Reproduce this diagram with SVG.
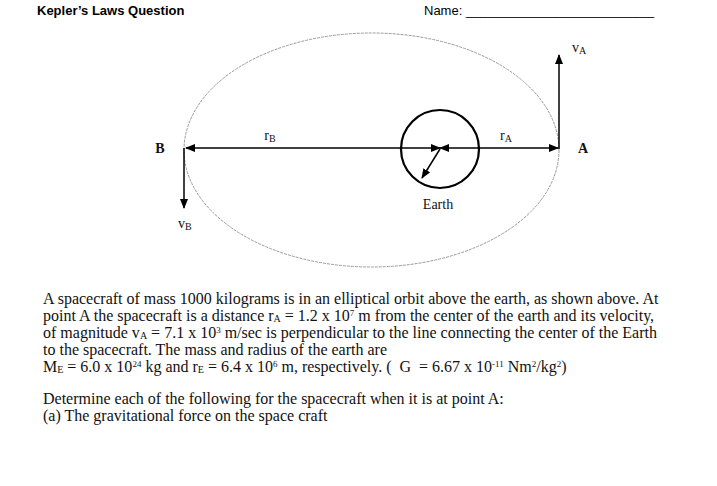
<svg xmlns="http://www.w3.org/2000/svg" width="717" height="486" viewBox="0 0 717 486">
<defs>
<marker id="ah" markerWidth="10" markerHeight="8" refX="9" refY="4" orient="auto" markerUnits="userSpaceOnUse"><path d="M0,0 L10,4 L0,8 Z" fill="#000"/></marker>
</defs>
<style>
.h{font-family:"Liberation Sans",Arial,sans-serif;font-size:13px}
.t{font-family:"Liberation Serif","Times New Roman",serif;font-size:16px;fill:#111}
.l{font-family:"Liberation Serif","Times New Roman",serif;font-size:14px;fill:#111}
.a{stroke:#000;stroke-width:1.5;fill:none}
</style>
<rect width="717" height="486" fill="#fff"/>
<text class="h" x="37" y="15" font-weight="bold">Kepler’s Laws Question</text>
<text class="h" x="424" y="15">Name: __________________________</text>
<g id="orbit"><ellipse cx="371.5" cy="150" rx="187.5" ry="117" fill="none" stroke="#999" stroke-width="1" stroke-dasharray="3,1"/></g>
<g id="earth"><circle cx="440" cy="149" r="39" fill="none" stroke="#000" stroke-width="2.2"/><text class="l" x="438" y="209" text-anchor="middle">Earth</text></g>
<g id="pointA"><text class="l" x="583" y="153" font-weight="bold" text-anchor="middle">A</text></g>
<g id="pointB"><text class="l" x="160" y="153" font-weight="bold" text-anchor="middle">B</text></g>
<g id="connectors">
<line class="a" x1="360" y1="148" x2="186" y2="148" marker-end="url(#ah)"/>
<line class="a" x1="360" y1="148" x2="440" y2="148" marker-end="url(#ah)"/>
<line class="a" x1="500" y1="148" x2="440" y2="148" marker-end="url(#ah)"/>
<line class="a" x1="500" y1="148" x2="558" y2="148" marker-end="url(#ah)"/>
<line class="a" x1="440" y1="149" x2="422" y2="178" marker-end="url(#ah)"/>
<line class="a" x1="559" y1="149" x2="559" y2="55" marker-end="url(#ah)"/>
<line class="a" x1="184" y1="148" x2="184" y2="208" marker-end="url(#ah)"/>
</g>
<g id="labels">
<text class="l" x="270" y="140" text-anchor="middle">r<tspan font-size="10" dy="2">B</tspan></text>
<text class="l" x="506" y="140" text-anchor="middle">r<tspan font-size="10" dy="2">A</tspan></text>
<text class="l" x="572" y="52">v<tspan font-size="10" dy="2">A</tspan></text>
<text class="l" x="178" y="228">v<tspan font-size="10" dy="2">B</tspan></text>
</g>
<g id="text">
<text class="t" x="43" y="304">A spacecraft of mass 1000 kilograms is in an elliptical orbit above the earth, as shown above. At</text>
<text class="t" x="43" y="321">point A the spacecraft is a distance r<tspan font-size="10" dy="1">A</tspan><tspan dy="-1"> = 1.2 x 10</tspan><tspan font-size="9" dy="-5">7</tspan><tspan dy="5"> m from the center of the earth and its velocity,</tspan></text>
<text class="t" x="43" y="338">of magnitude v<tspan font-size="10" dy="1">A</tspan><tspan dy="-1"> = 7.1 x 10</tspan><tspan font-size="9" dy="-5">3</tspan><tspan dy="5"> m/sec is perpendicular to the line connecting the center of the Earth</tspan></text>
<text class="t" x="43" y="355">to the spacecraft. The mass and radius of the earth are</text>
<text class="t" x="43" y="372">M<tspan font-size="10" dy="1">E</tspan><tspan dy="-1"> = 6.0 x 10</tspan><tspan font-size="9" dy="-5">24</tspan><tspan dy="5"> kg and r</tspan><tspan font-size="10" dy="1">E</tspan><tspan dy="-1"> = 6.4 x 10</tspan><tspan font-size="9" dy="-5">6</tspan><tspan dy="5"> m, respectively. (&#160;&#160;G&#160;&#160;= 6.67 x 10</tspan><tspan font-size="9" dy="-5">-11</tspan><tspan dy="5"> Nm</tspan><tspan font-size="9" dy="-5">2</tspan><tspan dy="5">/kg</tspan><tspan font-size="9" dy="-5">2</tspan><tspan dy="5">)</tspan></text>
<text class="t" x="43" y="404">Determine each of the following for the spacecraft when it is at point A:</text>
<text class="t" x="43" y="421">(a) The gravitational force on the space craft</text>
</g>
</svg>
